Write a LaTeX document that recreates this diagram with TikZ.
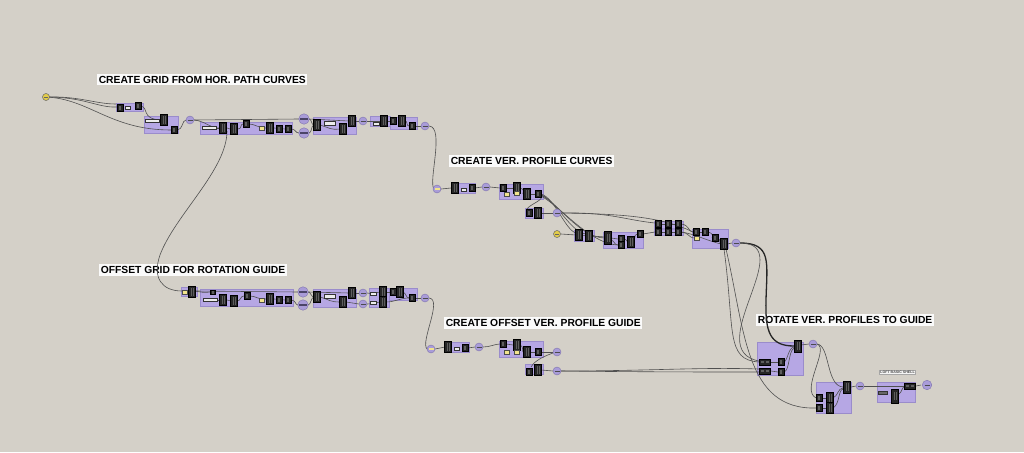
\documentclass[tikz,border=0pt]{standalone}
\usepackage{fontspec}
\setmainfont{Liberation Sans}
\usetikzlibrary{shapes.geometric}
\definecolor{bg}{HTML}{D4D0C8}
\definecolor{grpf}{HTML}{B6A7E4}
\definecolor{grpd}{HTML}{9A8CCB}
\definecolor{prmf}{HTML}{A99CD8}
\definecolor{prmd}{HTML}{7E72AE}
\definecolor{blkf}{HTML}{262626}
\definecolor{blkl}{HTML}{5E5E5E}
\definecolor{ylwf}{HTML}{F2E48C}
\definecolor{ylwd}{HTML}{E2CC4A}
\definecolor{wirec}{HTML}{505050}
\tikzset{
  grp/.style={fill=grpf,draw=grpd,line width=0.4pt},
  cb/.style={draw=black,fill=blkf,minimum width=6pt,minimum height=7pt,inner sep=0pt,line width=0.4pt,
    path picture={\fill[blkl] ([xshift=-0.8pt,yshift=-2pt]path picture bounding box.center) rectangle ([xshift=0.8pt,yshift=2pt]path picture bounding box.center);}},
  cbt/.style={cb,minimum width=7pt,minimum height=11pt,
    path picture={\fill[blkl] ([xshift=-1.5pt,yshift=-3.8pt]path picture bounding box.center) rectangle ([xshift=-0.5pt,yshift=3.8pt]path picture bounding box.center);
                  \fill[blkl] ([xshift=0.5pt,yshift=-3.8pt]path picture bounding box.center) rectangle ([xshift=1.5pt,yshift=3.8pt]path picture bounding box.center);}},
  cbw/.style={draw=black,fill=blkf,minimum width=11pt,minimum height=6pt,inner sep=0pt,line width=0.4pt,
    path picture={\fill[blkl] ([xshift=-4pt,yshift=-1.1pt]path picture bounding box.center) rectangle ([xshift=-0.7pt,yshift=1.1pt]path picture bounding box.center);
                  \fill[blkl] ([xshift=0.7pt,yshift=-1.1pt]path picture bounding box.center) rectangle ([xshift=4pt,yshift=1.1pt]path picture bounding box.center);}},
  sld/.style={draw=black!80,fill=gray!15,minimum width=14pt,minimum height=3pt,inner sep=0pt,line width=0.5pt},
  ylw/.style={draw=black!70,fill=ylwf,minimum width=5pt,minimum height=3.5pt,inner sep=0pt,line width=0.3pt},
  prmS/.style={circle,fill=prmf,draw=prmd,minimum size=8pt,inner sep=0pt,line width=0.4pt,
    path picture={\draw[black!70,line width=0.6pt] ([xshift=-2.5pt]path picture bounding box.center) -- ([xshift=2.5pt]path picture bounding box.center);}},
  prmL/.style={prmS,minimum size=10.5pt,
    path picture={\fill[prmd!60!black] ([xshift=-4pt,yshift=-1pt]path picture bounding box.center) rectangle ([xshift=4pt,yshift=1pt]path picture bounding box.center);}},
  yov/.style={prmS,
    path picture={\fill[ylwf] ([xshift=-2.5pt,yshift=-1.2pt]path picture bounding box.center) rectangle ([xshift=2.5pt,yshift=1.2pt]path picture bounding box.center);}},
  yprm/.style={circle,fill=ylwd,draw=black!60,minimum size=7pt,inner sep=0pt,line width=0.5pt,
    path picture={\draw[black!60,line width=0.5pt] ([xshift=-2pt]path picture bounding box.center) -- ([xshift=2pt]path picture bounding box.center);}},
  ttl/.style={fill=white!96!gray,inner xsep=1.6pt,inner ysep=2pt,text height=7.3pt,text depth=0pt,anchor=west,text=black,font=\fontsize{10.3}{11}\selectfont\bfseries},
  wr/.style={draw=wirec,line width=0.6pt},
  wrk/.style={draw=black!85,line width=1.3pt},
}
\begin{document}
\begin{tikzpicture}[x=1pt,y=-1pt]
\fill[bg] (0,0) rectangle (1024,452);
\useasboundingbox (0,0) rectangle (1024,452);

% ---------------- titles
\node[ttl] (t1) at (97,79.5) {CREATE GRID FROM HOR. PATH CURVES};
\node[ttl] (t2) at (449,161) {CREATE VER. PROFILE CURVES};
\node[ttl] (t3) at (99,270) {OFFSET GRID FOR ROTATION GUIDE};
\node[ttl] (t4) at (444,323) {CREATE OFFSET VER. PROFILE GUIDE};
\node[ttl] (t5) at (756,320) {ROTATE VER. PROFILES TO GUIDE};
\node[fill=white!92!gray,draw=gray!70,line width=0.3pt,inner sep=0.8pt,text=black!70,font=\fontsize{3.6}{4}\selectfont\bfseries] (t6) at (897.5,372) {LOFT BASIC SHELL};

% ---------------- groups
\draw[grp] (116,103) rectangle (143,111);
\draw[grp] (144,116) rectangle (178,133);
\draw[grp] (200,122) rectangle (292,134);
\draw[grp] (313,117) rectangle (356,134);
\draw[grp] (370,116) rectangle (390,126);
\draw[grp] (390,117) rectangle (417,129);

\draw[grp] (451,183) rectangle (475,193);
\draw[grp] (499,184) rectangle (543,199);
\draw[grp] (525,208) rectangle (543,218);
\draw[grp] (574,230) rectangle (594,241);
\draw[grp] (603,232) rectangle (643,248);
\draw[grp] (654,221) rectangle (683,228);
\draw[grp] (654,229) rectangle (683,235);
\draw[grp] (692,229) rectangle (728,248);

\draw[grp] (181,287) rectangle (197,296);
\draw[grp] (200,289) rectangle (293,306);
\draw[grp] (313,289) rectangle (356,307);
\draw[grp] (369,288) rectangle (389,307);
\draw[grp] (389,288) rectangle (417,300);

\draw[grp] (444,342) rectangle (469,352);
\draw[grp] (499,341) rectangle (543,357);
\draw[grp] (525,364) rectangle (543,374);

\draw[grp] (757,342) rectangle (803,375);
\draw[grp] (816,382) rectangle (851,413);
\draw[grp] (877,382) rectangle (915,402);

% ---------------- wires (drawn below components)
\draw[wr] (46,97) .. controls (80,96) and (95,104) .. (116,104);
\draw[wr] (46,97) .. controls (85,97) and (98,108) .. (117,107);
\draw[wr] (46,97) .. controls (90,99) and (110,130) .. (171,130);
\draw[wr] (227,131) .. controls (227,170) and (175,215) .. (160,255) .. controls (152,278) and (162,291) .. (182,291);
% top row internal
\draw[wr] (140,106) .. controls (150,107) and (140,119) .. (161,120);
\draw[wr] (177,130) .. controls (183,130) and (182,120) .. (186,120);
\draw[wr] (194,120) -- (299,119);
\draw[wr] (194,120) .. controls (205,121) and (210,128) .. (219,128);
\draw[wr] (215,128) -- (219,128);
\draw[wr] (227,128) -- (230,129);
\draw[wr] (238,129) .. controls (242,129) and (240,124) .. (243,124);
\draw[wr] (249,124) .. controls (255,124) and (258,128) .. (266,128);
\draw[wr] (274,128) -- (285,129);
\draw[wr] (291,129) .. controls (296,129) and (295,133) .. (299,133);
\draw[wr] (309,119) .. controls (312,119) and (311,125) .. (314,125);
\draw[wr] (309,133) .. controls (312,133) and (311,125) .. (314,125);
\draw[wr] (320,125) .. controls (330,128) and (330,130) .. (340,129);
\draw[wr] (309,119) -- (349,121);
\draw[wr] (355,121) -- (359,121);
\draw[wr] (367,121) -- (380,121);
\draw[wr] (387,121) -- (390,121);
\draw[wr] (405,121) .. controls (408,121) and (406,126) .. (409,126);
\draw[wr] (415,126) -- (421,126);
% row 1 -> row 2
\draw[wr] (429,126) .. controls (445,127) and (428,182) .. (434,189);
\draw[wr] (441,189) -- (451,188);
\draw[wr] (475,188) -- (482,187);
\draw[wr] (490,187) -- (500,188);
\draw[wr] (506,188) -- (513,188);
\draw[wr] (520,188) .. controls (526,189) and (522,194) .. (523,194);
\draw[wr] (531,194) -- (535,194);
\draw[wr] (541,195) .. controls (545,200) and (530,204) .. (527,209);
\draw[wr] (541,194) .. controls (555,198) and (565,230) .. (576,233);
\draw[wr] (541,195) .. controls (556,200) and (570,232) .. (586,234);
\draw[wr] (541,195) .. controls (558,203) and (580,238) .. (605,238);
\draw[wr] (541,196) .. controls (560,206) and (590,244) .. (618,245);
\draw[wr] (541,213) -- (553,213);
\draw[wr] (561,213) .. controls (610,212) and (625,220) .. (655,223);
\draw[wr] (561,213) .. controls (620,214) and (660,216) .. (693,232);
\draw[wr] (561,234) -- (576,235);
\draw[wr] (582,235) -- (586,236);
\draw[wr] (592,236) -- (605,237);
\draw[wr] (611,238) .. controls (615,238) and (614,239) .. (618,239);
\draw[wr] (611,240) .. controls (615,241) and (614,245) .. (618,245);
\draw[wr] (624,239) .. controls (628,240) and (626,242) .. (628,242);
\draw[wr] (634,240) .. controls (636,236) and (634,234) .. (637,234);
\draw[wr] (643,234) -- (655,232);
\draw[wr] (661,224) -- (665,224);
\draw[wr] (671,224) -- (675,224);
\draw[wr] (661,232) -- (665,232);
\draw[wr] (671,232) -- (675,232);
\draw[wr] (681,224) .. controls (690,225) and (688,232) .. (693,232);
\draw[wr] (681,232) .. controls (690,233) and (688,238) .. (695,238);
\draw[wr] (681,232) .. controls (695,234) and (705,240) .. (721,244);
\draw[wr] (699,232) -- (702,232);
\draw[wr] (708,232) .. controls (715,234) and (712,238) .. (712,238);
\draw[wr] (718,238) .. controls (721,240) and (719,244) .. (721,244);
\draw[wr] (727,244) -- (732,243);
% row 3
\draw[wr] (195,291) -- (298,292);
\draw[wr] (195,291) .. controls (200,292) and (205,293) .. (210,292);
\draw[wr] (217,300) -- (220,300);
\draw[wr] (227,300) -- (231,301);
\draw[wr] (237,301) .. controls (241,301) and (240,296) .. (244,296);
\draw[wr] (250,296) .. controls (256,296) and (259,300) .. (266,299);
\draw[wr] (274,299) -- (285,300);
\draw[wr] (291,300) .. controls (296,300) and (295,305) .. (298,305);
\draw[wr] (308,292) .. controls (311,292) and (311,297) .. (314,297);
\draw[wr] (308,305) .. controls (311,305) and (311,297) .. (314,297);
\draw[wr] (320,297) .. controls (330,300) and (330,302) .. (340,302);
\draw[wr] (308,292) -- (349,293);
\draw[wr] (355,293) -- (359,293);
\draw[wr] (346,302) -- (359,304);
\draw[wr] (367,293) .. controls (372,294) and (375,293) .. (380,292);
\draw[wr] (367,304) .. controls (372,304) and (375,303) .. (380,302);
\draw[wr] (386,292) -- (390,292);
\draw[wr] (386,302) .. controls (395,302) and (400,298) .. (409,298);
\draw[wr] (403,292) .. controls (406,293) and (406,298) .. (409,298);
\draw[wr] (415,298) -- (421,298);
% row 3 -> row 4
\draw[wr] (429,298) .. controls (443,299) and (420,342) .. (427,349);
\draw[wr] (435,349) -- (445,347);
\draw[wr] (468,348) -- (475,347);
\draw[wr] (483,347) .. controls (490,347) and (495,344) .. (500,344);
\draw[wr] (506,344) -- (513,345);
\draw[wr] (520,345) .. controls (524,346) and (522,352) .. (523,352);
\draw[wr] (531,352) -- (535,352);
\draw[wr] (541,352) -- (553,352);
\draw[wr] (553,353) .. controls (545,356) and (535,360) .. (531,367);
\draw[wr] (541,370) -- (553,371);
% long wires row 4 -> rotate
\draw[wr] (561,371) .. controls (650,371) and (700,367) .. (759,369);
\draw[wr] (561,371) .. controls (650,372) and (700,372) .. (759,372);
% rotate area
\draw[wrk] (740,243) .. controls (772,243) and (767,262) .. (766,300) .. controls (765,332) and (770,346) .. (794,346);
\draw[wr] (740,243) .. controls (800,243) and (700,350) .. (759,361);
\draw[wr] (724,249) .. controls (735,330) and (725,360) .. (759,362);
\draw[wr] (726,249) .. controls (745,330) and (745,410) .. (816,408);
\draw[wr] (771,362) -- (778,362);
\draw[wr] (771,371) -- (778,372);
\draw[wr] (784,362) .. controls (788,360) and (788,348) .. (794,347);
\draw[wr] (784,372) .. controls (790,370) and (788,352) .. (794,348);
\draw[wr] (801,345) -- (809,344);
\draw[wr] (817,344) .. controls (830,345) and (826,386) .. (843,387);
\draw[wr] (817,344) .. controls (830,348) and (800,390) .. (816,398);
\draw[wr] (822,398) -- (826,398);
\draw[wr] (822,408) -- (826,408);
\draw[wr] (833,398) .. controls (838,396) and (838,388) .. (843,388);
\draw[wr] (833,408) .. controls (840,404) and (838,390) .. (843,389);
\draw[wr] (851,387) -- (856,386);
\draw[wr] (864,386) -- (904,386);
\draw[wr] (899,394) .. controls (902,392) and (902,387) .. (905,386);
\draw[wr] (916,386) -- (921,385);

% ---------------- components, row 1
\node[yprm] (y1) at (46,97) {};
\node[cb] (a1) at (120,108) {};
\node[sld,minimum width=5pt] (a2) at (128,108) {};
\node[cb] (a3) at (138,106) {};
\node[sld] (a4) at (152,121) {};
\node[cbt] (a5) at (164,120) {};
\node[cb] (a6) at (174,130) {};
\node[prmS] (p1) at (190,120) {};
\node[sld] (a7) at (209,128) {};
\node[cbt] (a8) at (223,128) {};
\node[cbt] (a9) at (234,129) {};
\node[cb] (a10) at (246,124) {};
\node[ylw] (a11) at (262,128) {};
\node[cbt] (a12) at (270,128) {};
\node[cb] (a13) at (279,129) {};
\node[cb] (a14) at (288,129) {};
\node[prmL] (p2) at (304,119) {};
\node[prmL] (p3) at (304,133) {};
\node[cbt] (a15) at (317,125) {};
\node[sld,minimum width=11pt,minimum height=4pt] (a16) at (330,123) {};
\node[cbt] (a17) at (352,121) {};
\node[cbt] (a18) at (343,129) {};
\node[prmS] (p4) at (363,121) {};
\node[sld,minimum width=6pt] (a19) at (376,124) {};
\node[cbt] (a20) at (384,121) {};
\node[cb] (a21) at (393,121) {};
\node[cbt] (a22) at (402,121) {};
\node[cb] (a23) at (412,126) {};
\node[prmS] (p5) at (425,126) {};

% ---------------- components, row 2
\node[yov] (c0) at (437,189) {};
\node[cbt] (c1) at (455,188) {};
\node[sld,minimum width=5pt] (c2) at (464,190) {};
\node[cb] (c3) at (472,188) {};
\node[prmS] (pc1) at (486,187) {};
\node[cb] (c4) at (503,188) {};
\node[cbt] (c5) at (517,188) {};
\node[ylw] (c6) at (507,194) {};
\node[ylw] (c7) at (517,193) {};
\node[cbt] (c8) at (527,194) {};
\node[cb] (c9) at (538,194) {};
\node[cb] (c10) at (529,213) {};
\node[cbt] (c11) at (538,213) {};
\node[prmS] (pc2) at (557,213) {};
\node[yprm] (c12) at (557,234) {};
\node[cbt] (c13) at (579,235) {};
\node[cbt] (c14) at (589,236) {};
\node[cbt,minimum height=13pt] (c15) at (608,238) {};
\node[cb] (c16) at (621,239) {};
\node[cb] (c17) at (621,245) {};
\node[cbt] (c18) at (631,242) {};
\node[cb] (c19) at (640,234) {};
\node[cb] (c20) at (658,224) {};
\node[cb] (c21) at (668,224) {};
\node[cb] (c22) at (678,224) {};
\node[cb] (c23) at (658,232) {};
\node[cb] (c24) at (668,232) {};
\node[cb] (c25) at (678,232) {};
\node[cb] (c26) at (696,232) {};
\node[cb] (c27) at (705,232) {};
\node[ylw] (c28) at (697,238) {};
\node[cb] (c29) at (715,238) {};
\node[cbt] (c30) at (724,244) {};
\node[prmS] (pc3) at (736,243) {};

% ---------------- components, row 3
\node[ylw] (b1) at (185,292) {};
\node[cbt] (b2) at (192,292) {};
\node[cb,minimum width=5pt,minimum height=4pt] (b4) at (213,292) {};
\node[sld] (b3) at (210,300) {};
\node[cbt] (b5) at (223,300) {};
\node[cbt] (b6) at (234,301) {};
\node[cb] (b7) at (247,296) {};
\node[ylw] (b8) at (262,300) {};
\node[cbt] (b9) at (270,299) {};
\node[cb] (b10) at (279,300) {};
\node[cb] (b11) at (288,300) {};
\node[prmL] (pb1) at (303,292) {};
\node[prmL] (pb2) at (303,305) {};
\node[cbt] (b12) at (317,297) {};
\node[sld,minimum width=11pt,minimum height=4pt] (b13) at (330,296) {};
\node[cbt] (b14) at (352,293) {};
\node[cbt] (b15) at (343,302) {};
\node[prmS] (pb3) at (363,293) {};
\node[prmS] (pb4) at (363,304) {};
\node[sld,minimum width=6pt] (b16) at (373,294) {};
\node[cbt] (b17) at (383,292) {};
\node[sld,minimum width=6pt] (b18) at (373,303) {};
\node[cbt] (b19) at (383,302) {};
\node[cb] (b20) at (393,292) {};
\node[cbt] (b21) at (400,292) {};
\node[cb] (b22) at (412,298) {};
\node[prmS] (pb5) at (425,298) {};

% ---------------- components, row 4
\node[yov] (d0) at (431,349) {};
\node[cbt] (d1) at (448,347) {};
\node[sld,minimum width=5pt] (d2) at (457,349) {};
\node[cb] (d3) at (465,348) {};
\node[prmS] (pd1) at (479,347) {};
\node[cb] (d4) at (503,344) {};
\node[cbt] (d5) at (517,345) {};
\node[ylw] (d6) at (507,352) {};
\node[ylw] (d7) at (517,352) {};
\node[cbt] (d8) at (527,352) {};
\node[cb] (d9) at (538,352) {};
\node[prmS] (pd2) at (557,352) {};
\node[cb] (d10) at (529,372) {};
\node[cbt] (d11) at (538,370) {};
\node[prmS] (pd3) at (557,371) {};

% ---------------- rotate + loft
\node[cbt,minimum height=12pt] (e1) at (798,346) {};
\node[cbw] (e2) at (765,362) {};
\node[cb] (e3) at (781,362) {};
\node[cbw] (e4) at (765,371) {};
\node[cb] (e5) at (781,372) {};
\node[prmS] (pe1) at (813,344) {};
\node[cbt,minimum height=12pt] (e6) at (847,387) {};
\node[cb] (e7) at (819,398) {};
\node[cbt] (e8) at (830,398) {};
\node[cb] (e9) at (819,408) {};
\node[cbt] (e10) at (830,408) {};
\node[prmS] (pe2) at (860,386) {};
\node[sld,fill=blkf!70,minimum width=9pt,minimum height=3pt] (e11) at (883,393) {};
\node[cbt,minimum height=14pt] (e12) at (895,396) {};
\node[cbw] (e13) at (910,386) {};
\node[prmS,minimum size=9.5pt] (pe3) at (927,385) {};
\end{tikzpicture}
\end{document}
